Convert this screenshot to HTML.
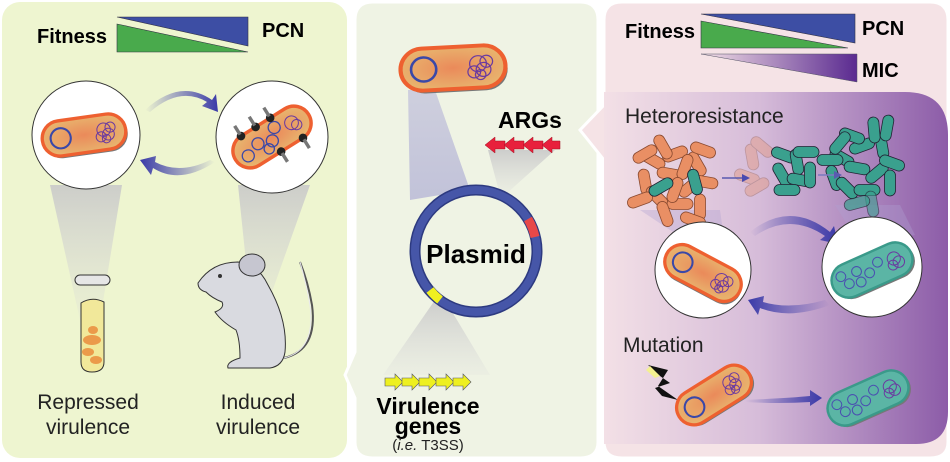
<!DOCTYPE html>
<html><head><meta charset="utf-8"><style>
html,body{margin:0;padding:0;background:#fff;}
svg{display:block;font-family:"Liberation Sans",Arial,sans-serif;}
</style></head><body>
<svg width="950" height="462" viewBox="0 0 950 462" xmlns="http://www.w3.org/2000/svg">
<defs>
<linearGradient id="purp" x1="0" y1="0" x2="1" y2="0">
<stop offset="0" stop-color="#f3e0e6"/><stop offset="0.45" stop-color="#d6bcd9"/><stop offset="1" stop-color="#8c5ca8"/></linearGradient>
<linearGradient id="mic" x1="0" y1="0" x2="1" y2="0">
<stop offset="0" stop-color="#f3e0e6"/><stop offset="1" stop-color="#5a2a90"/></linearGradient>
<linearGradient id="beam" x1="0" y1="0" x2="0" y2="1">
<stop offset="0" stop-color="#c9c9c9" stop-opacity="0.9"/><stop offset="1" stop-color="#d8d8d8" stop-opacity="0.15"/></linearGradient>
<linearGradient id="beamB" x1="0" y1="0" x2="0" y2="1">
<stop offset="0" stop-color="#c6c6dc"/><stop offset="1" stop-color="#b6b6d6"/></linearGradient>
<linearGradient id="arrL" x1="1" y1="0" x2="0" y2="0">
<stop offset="0" stop-color="#3a3aa8" stop-opacity="0"/><stop offset="1" stop-color="#3a3aa8"/></linearGradient>
<linearGradient id="arrR" x1="0" y1="0" x2="1" y2="0">
<stop offset="0" stop-color="#3a3aa8" stop-opacity="0"/><stop offset="1" stop-color="#3a3aa8"/></linearGradient>
<radialGradient id="orng" cx="0.5" cy="0.5" r="0.6"><stop offset="0" stop-color="#ea8a5a"/><stop offset="1" stop-color="#e8b870"/></radialGradient>
<g id="bac"><rect x="-50" y="-21" width="100" height="42" rx="21" fill="#777" transform="translate(2,3)"/><rect x="-50" y="-21" width="100" height="42" rx="21" fill="url(#orng)" stroke="#ee6030" stroke-width="4"/><circle cx="-28" cy="0" r="12" fill="none" stroke="#3a48a8" stroke-width="2.5"/><g fill="none" stroke="#6a3aa0" stroke-width="1.2"><circle cx="24" cy="-3" r="8"/><circle cx="29" cy="3" r="7"/><circle cx="20" cy="5" r="6"/><circle cx="32" cy="-5" r="6"/><circle cx="26" cy="8" r="5"/></g></g>
<g id="teal"><rect x="-52" y="-21" width="104" height="42" rx="21" fill="#777" transform="translate(2,3)"/><rect x="-52" y="-21" width="104" height="42" rx="21" fill="#5bb5a5" stroke="#3a9a8a" stroke-width="3"/><g fill="none" stroke="#4a50b0" stroke-width="1.3"><circle cx="-32" cy="4" r="6"/><circle cx="-18" cy="8" r="6"/><circle cx="-18" cy="-6" r="6"/><circle cx="-4" cy="2" r="6"/><circle cx="10" cy="-6" r="6"/><circle cx="-38" cy="-8" r="6"/></g><g fill="none" stroke="#6a3aa0" stroke-width="1.2"><circle cx="30" cy="-2" r="8"/><circle cx="34" cy="4" r="7"/><circle cx="26" cy="5" r="6"/></g></g>
<rect id="ob" x="-13" y="-5.5" width="26" height="11" rx="5.5" fill="#e98f64" stroke="#8a4a30" stroke-width="0.8"/>
<rect id="tb" x="-13" y="-5.5" width="26" height="11" rx="5.5" fill="#3aa08e" stroke="#223" stroke-width="0.8"/>
</defs>

<rect x="2" y="2" width="345" height="456" rx="18" fill="#eef5d0"/>
<path d="M355 20 Q355 2 373 2 L580 2 Q598 2 598 20 L598 442 Q598 458 580 458 L373 458 Q355 458 355 442 L355 398 L345 375 L355 352 Z" fill="#eff3e4" stroke="#fff" stroke-width="3"/>
<path d="M604 20 Q604 2 622 2 L930 2 Q948 2 948 20 L948 442 Q948 458 930 458 L622 458 Q604 458 604 442 L604 160 L580 130 L604 105 Z" fill="#f5e3e6" stroke="#fff" stroke-width="3"/>
<path d="M604 92 L905 92 Q948 92 948 135 L948 412 Q948 444 916 444 L604 444 Z" fill="url(#purp)"/>

<text x="37" y="43" font-size="20" font-weight="bold">Fitness</text>
<polygon points="117,17 248,17 248,46" fill="#3d4ea4" stroke="#334" stroke-width="0.6"/>
<polygon points="117,24 248,52 117,52" fill="#49aa4c" stroke="#334" stroke-width="0.6"/>
<text x="262" y="37" font-size="20" font-weight="bold">PCN</text>

<polygon points="50,185 122,185 100,320 80,320" fill="url(#beam)"/>
<polygon points="238,185 310,185 262,320 252,320" fill="url(#beam)"/>

<path d="M145 110 Q180 78 212 100 L216 94 L218 112 L202 106 L207 102 Q180 86 150 112 Z" fill="url(#arrR)"/>
<path d="M215 162 Q180 185 153 168 L151 175 L140 160 L156 156 L155 162 Q180 175 210 160 Z" fill="url(#arrL)"/>

<circle cx="86" cy="135" r="54" fill="#fff" stroke="#333" stroke-width="1"/>
<circle cx="272" cy="137" r="56" fill="#fff" stroke="#333" stroke-width="1"/>
<g transform="translate(84,135) rotate(-8) scale(0.84)"><use href="#bac"/></g>
<g transform="translate(272,137) rotate(-32) scale(0.86)">
<rect x="-50" y="-20" width="100" height="40" rx="20" fill="url(#orng)" stroke="#ee6030" stroke-width="4"/>
<g fill="none" stroke="#3a48a8" stroke-width="1.5"><circle cx="-35" cy="4" r="7"/><circle cx="-18" cy="-2" r="7"/><circle cx="-2" cy="4" r="7"/><circle cx="8" cy="-8" r="7"/><circle cx="-10" cy="10" r="6"/></g>
<g fill="none" stroke="#6a3aa0" stroke-width="1.2"><circle cx="28" cy="-2" r="8"/><circle cx="32" cy="3" r="6"/></g>
<g fill="#222"><circle cx="-30" cy="-20" r="5"/><circle cx="-10" cy="-20" r="5"/><circle cx="10" cy="-20" r="5"/><circle cx="0" cy="20" r="5"/><circle cx="30" cy="20" r="5"/></g>
<g stroke="#777" stroke-width="4"><line x1="-30" y1="-22" x2="-30" y2="-34"/><line x1="-10" y1="-22" x2="-10" y2="-34"/><line x1="10" y1="-22" x2="10" y2="-34"/><line x1="0" y1="22" x2="0" y2="34"/><line x1="30" y1="22" x2="30" y2="34"/></g>
</g>

<rect x="75" y="275" width="35" height="10" rx="5" fill="#e6e6e6" stroke="#333" stroke-width="1"/>
<path d="M81 303 Q92 296 104 302 L104 362 Q104 372 92 372 Q81 372 81 362 Z" fill="#f1e89a" stroke="#333" stroke-width="1"/>
<g fill="#eb9a4a"><ellipse cx="92" cy="340" rx="9" ry="5"/><ellipse cx="88" cy="352" rx="6" ry="4"/><ellipse cx="96" cy="360" rx="6" ry="4"/><ellipse cx="93" cy="330" rx="5" ry="4"/></g>
<path d="M284 358 Q318 350 312 305 Q308 282 300 262" fill="none" stroke="#555" stroke-width="2"/>
<path d="M284 358 Q316 350 310 305 Q306 282 300 262" fill="none" stroke="#e8e8ee" stroke-width="1"/>
<path d="M198 283 Q212 262 238 262 Q258 264 268 285 Q288 320 285 352 Q283 366 270 368 L228 368 Q226 362 240 358 Q240 340 236 330 Q222 322 215 312 Q225 308 222 302 Q212 298 206 292 Q198 290 198 283 Z" fill="#d9dae0" stroke="#333" stroke-width="1"/>
<ellipse cx="252" cy="265" rx="13" ry="11" fill="#c6c6d0" stroke="#333" stroke-width="1"/>
<circle cx="220" cy="276" r="2" fill="#333"/>

<text x="88" y="409" font-size="21" text-anchor="middle" fill="#222">Repressed</text>
<text x="88" y="434" font-size="21" text-anchor="middle" fill="#222">virulence</text>
<text x="258" y="409" font-size="21" text-anchor="middle" fill="#222">Induced</text>
<text x="258" y="434" font-size="21" text-anchor="middle" fill="#222">virulence</text>

<polygon points="408,90 435,90 470,190 410,200" fill="url(#beamB)" opacity="0.8"/>
<polygon points="488,150 555,150 505,195 500,195" fill="url(#beam)"/>
<polygon points="435,300 445,300 490,375 383,375" fill="url(#beam)"/>
<g transform="translate(453,68) rotate(-3) scale(1.05,1)"><use href="#bac"/></g>
<text x="530" y="128" font-size="23" font-weight="bold" text-anchor="middle">ARGs</text>
<g fill="#e8203c" stroke="#a01020" stroke-width="0.5">
<polygon points="485,145 495,137 495,141 505,141 505,149 495,149 495,153"/>
<polygon points="504,145 514,137 514,141 524,141 524,149 514,149 514,153"/>
<polygon points="523,145 533,137 533,141 543,141 543,149 533,149 533,153"/>
<polygon points="542,145 552,137 552,141 560,141 560,149 552,149 552,153"/>
</g>
<circle cx="476" cy="251" r="61" fill="none" stroke="#2d3a80" stroke-width="11"/>
<circle cx="476" cy="251" r="61" fill="none" stroke="#4656a8" stroke-width="8"/>
<path d="M528 219 A61 61 0 0 1 535 237" fill="none" stroke="#e84848" stroke-width="9"/>
<path d="M440 300 A61 61 0 0 1 430 290" fill="none" stroke="#f0f020" stroke-width="9"/>
<text x="476" y="263" font-size="26" font-weight="bold" text-anchor="middle">Plasmid</text>
<g fill="#eef020" stroke="#556" stroke-width="0.6">
<polygon points="385,378 395,378 395,374 403,382 395,390 395,386 385,386"/>
<polygon points="402,378 412,378 412,374 420,382 412,390 412,386 402,386"/>
<polygon points="419,378 429,378 429,374 437,382 429,390 429,386 419,386"/>
<polygon points="436,378 446,378 446,374 454,382 446,390 446,386 436,386"/>
<polygon points="453,378 463,378 463,374 471,382 463,390 463,386 453,386"/>
</g>
<text x="428" y="414" font-size="23" font-weight="bold" text-anchor="middle">Virulence</text>
<text x="428" y="434" font-size="23" font-weight="bold" text-anchor="middle">genes</text>
<text x="428" y="450" font-size="15" text-anchor="middle" fill="#222">(<tspan font-style="italic">i.e.</tspan> T3SS)</text>

<text x="625" y="38" font-size="20" font-weight="bold">Fitness</text>
<polygon points="701,14 855,14 855,43" fill="#3d4ea4" stroke="#334" stroke-width="0.6"/>
<polygon points="701,21 848,48 701,48" fill="#49aa4c" stroke="#334" stroke-width="0.6"/>
<polygon points="701,54 857,54 857,82" fill="url(#mic)" stroke="#556" stroke-width="0.5"/>
<text x="862" y="35" font-size="20" font-weight="bold">PCN</text>
<text x="862" y="77" font-size="20" font-weight="bold">MIC</text>

<text x="625" y="123" font-size="21" fill="#222">Heteroresistance</text>
<g>
<polygon points="640,210 720,210 725,245 700,250" fill="#b0a0d0" opacity="0.35"/>
<polygon points="835,205 900,205 915,235 860,245" fill="#b0a0d0" opacity="0.35"/>
<g transform="translate(675,182)">
<use href="#ob" transform="translate(-22,-22) rotate(30)"/><use href="#ob" transform="translate(0,-28) rotate(-20)"/><use href="#ob" transform="translate(22,-18) rotate(60)"/><use href="#ob" transform="translate(-30,0) rotate(80)"/><use href="#ob" transform="translate(-5,-8) rotate(10)"/><use href="#ob" transform="translate(15,5) rotate(-40)"/><use href="#ob" transform="translate(-18,15) rotate(45)"/><use href="#ob" transform="translate(5,22) rotate(0)"/><use href="#ob" transform="translate(28,-32) rotate(20)"/><use href="#ob" transform="translate(-30,-28) rotate(-30)"/><use href="#ob" transform="translate(-10,32) rotate(70)"/><use href="#ob" transform="translate(25,25) rotate(90)"/><use href="#ob" transform="translate(30,0) rotate(10)"/><use href="#ob" transform="translate(-35,18) rotate(-20)"/><use href="#ob" transform="translate(10,-15) rotate(110)"/><use href="#ob" transform="translate(-12,-35) rotate(60)"/><use href="#ob" transform="translate(0,8) rotate(-70)"/><use href="#ob" transform="translate(18,38) rotate(20)"/>
<use href="#tb" transform="translate(-14,5) rotate(-30)"/><use href="#tb" transform="translate(20,0) rotate(75)"/>
</g>
<g transform="translate(762,172)" opacity="0.35"><use href="#ob" transform="translate(-10,-15) rotate(80)"/><use href="#ob" transform="translate(-15,5) rotate(20)"/><use href="#ob" transform="translate(-5,15) rotate(-30)"/><use href="#ob" transform="translate(0,-25) rotate(40)"/></g>
<g transform="translate(792,170)"><use href="#tb" transform="translate(-8,-15) rotate(20)"/><use href="#tb" transform="translate(5,-8) rotate(80)"/><use href="#tb" transform="translate(-10,5) rotate(60)"/><use href="#tb" transform="translate(8,10) rotate(10)"/><use href="#tb" transform="translate(-5,20) rotate(0)"/><use href="#tb" transform="translate(14,-18) rotate(0)"/><use href="#tb" transform="translate(18,5) rotate(90)"/></g>
<g transform="translate(862,168)"><use href="#tb" transform="translate(-20,-10) rotate(30)"/><use href="#tb" transform="translate(0,-22) rotate(-20)"/><use href="#tb" transform="translate(20,-22) rotate(80)"/><use href="#tb" transform="translate(-28,10) rotate(70)"/><use href="#tb" transform="translate(-5,0) rotate(10)"/><use href="#tb" transform="translate(15,5) rotate(-40)"/><use href="#tb" transform="translate(-15,20) rotate(45)"/><use href="#tb" transform="translate(5,22) rotate(0)"/><use href="#tb" transform="translate(28,15) rotate(90)"/><use href="#tb" transform="translate(-32,-8) rotate(0)"/><use href="#tb" transform="translate(10,36) rotate(80)" opacity="0.6"/><use href="#tb" transform="translate(-10,-32) rotate(20)"/><use href="#tb" transform="translate(30,-5) rotate(20)"/><use href="#tb" transform="translate(-22,-25) rotate(-50)"/><use href="#tb" transform="translate(12,-38) rotate(85)"/><use href="#tb" transform="translate(-5,35) rotate(-15)" opacity="0.7"/><use href="#tb" transform="translate(25,-40) rotate(100)"/></g>
<path d="M722 178 L742 178" stroke="#5a5ab0" stroke-width="1.5"/><polygon points="742,174 750,178 742,182" fill="#4a4ab0"/>
<path d="M818 175 L836 175" stroke="#7a7ac0" stroke-width="1.5"/><polygon points="834,171 842,175 834,179" fill="#5a5ab0"/>
</g>
<path d="M750 232 Q790 200 830 232 L834 226 L838 244 L820 240 L825 236 Q790 212 755 236 Z" fill="url(#arrR)"/>
<path d="M830 305 Q790 320 760 308 L758 315 L748 300 L764 296 L763 302 Q790 310 825 300 Z" fill="url(#arrL)"/>
<circle cx="703" cy="270" r="48" fill="#fff" stroke="#333" stroke-width="1"/>
<circle cx="872" cy="267" r="50" fill="#fff" stroke="#333" stroke-width="1"/>
<g transform="translate(703,273) rotate(28) scale(0.82)"><use href="#bac"/></g>
<g transform="translate(872,270) rotate(-24) scale(0.82)"><use href="#teal"/></g>

<text x="623" y="352" font-size="21" fill="#222">Mutation</text>
<polygon points="648,365 668,370 658,386 678,400 662,396 655,388 670,383 660,376" fill="#111"/>
<polygon points="646,370 650,366 660,376 655,378" fill="#f4f090"/>
<g transform="translate(714,395) rotate(-32) scale(0.82)"><use href="#bac"/></g>
<path d="M745 400 Q790 398 810 396 L810 390 L822 398 L810 406 L810 402 Q780 404 745 402 Z" fill="url(#arrR)"/>
<g transform="translate(868,398) rotate(-24) scale(0.82)"><use href="#teal"/></g>
</svg>
</body></html>
